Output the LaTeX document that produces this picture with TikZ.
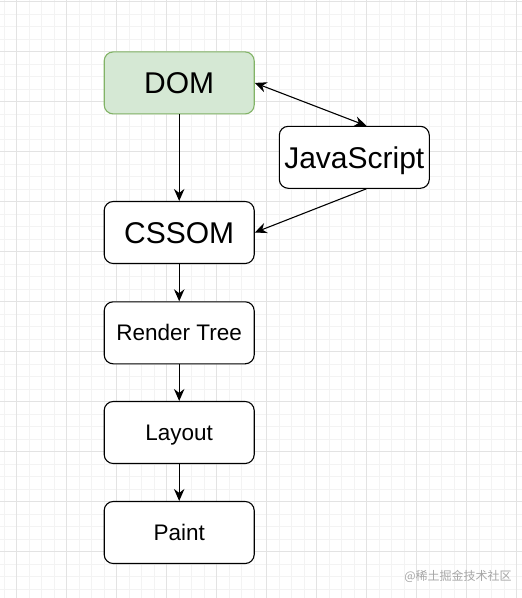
\documentclass[tikz,border=0pt]{standalone}
\usepackage{fontspec}
\setmainfont{Liberation Sans}
\newfontfamily\cjk{Noto Sans CJK SC}
\usetikzlibrary{arrows.meta}
\definecolor{gminor}{HTML}{F3F3F3}
\definecolor{gmajor}{HTML}{E3E3E3}
\definecolor{domfill}{HTML}{D5E8D4}
\definecolor{domdraw}{HTML}{82B366}
\tikzset{
  box/.style={draw=black, line width=1.1pt, rounded corners=9pt, minimum width=150pt, minimum height=62pt, inner sep=0pt, fill=white, text depth=0pt},
  big/.style={font=\fontsize{30}{30}\selectfont, text height=21.5pt},
  small/.style={font=\fontsize{22.5}{22.5}\selectfont, text height=16.1pt},
  conn/.style={line width=1.1pt, -{Stealth[length=12pt,width=10.5pt,inset=4pt]}},
  conn2/.style={line width=1.1pt, {Stealth[length=12pt,width=10.5pt,inset=4pt]}-{Stealth[length=12pt,width=10.5pt,inset=4pt]}},
}
\begin{document}
\begin{tikzpicture}[x=1pt,y=-1pt]
\useasboundingbox (0,0) rectangle (522,598);
\fill[white] (0,0) rectangle (522,598);
% minor grid
\foreach \i in {0,...,42} {
  \draw[gminor, line width=0.8pt] ({4.2+12.5*\i},0) -- ({4.2+12.5*\i},598);
}
\foreach \i in {0,...,48} {
  \draw[gminor, line width=0.8pt] (0,{1.7+12.5*\i}) -- (522,{1.7+12.5*\i});
}
% major grid
\foreach \i in {0,...,10} {
  \draw[gmajor, line width=0.8pt] ({16.7+50*\i},0) -- ({16.7+50*\i},598);
}
\foreach \i in {0,...,11} {
  \draw[gmajor, line width=0.8pt] (0,{1.7+50*\i}) -- (522,{1.7+50*\i});
}
% nodes
\node[box, fill=domfill, draw=domdraw, big] (dom) at (179.2,82.9) {DOM};
\node[box, big] (js) at (354.3,157.3) {JavaScript};
\node[box, big] (cssom) at (179.2,232.5) {CSSOM};
\node[box, small] (rt) at (179.2,332.8) {Render Tree};
\node[box, small] (layout) at (179.2,432.5) {Layout};
\node[box, small] (paint) at (179.2,532.5) {Paint};
% connectors
\draw[conn] (dom) -- (cssom);
\draw[conn2] (dom.east) -- ([xshift=12pt]js.north);
\draw[conn] ([xshift=12pt]js.south) -- (cssom.east);
\draw[conn] (cssom) -- (rt);
\draw[conn] (rt) -- (layout);
\draw[conn] (layout) -- (paint);
% watermark
\node[font=\cjk\fontsize{12}{12}\selectfont, text=black!35, inner sep=0pt] (wm) at (458,576) {@稀土掘金技术社区};
\end{tikzpicture}
\end{document}
